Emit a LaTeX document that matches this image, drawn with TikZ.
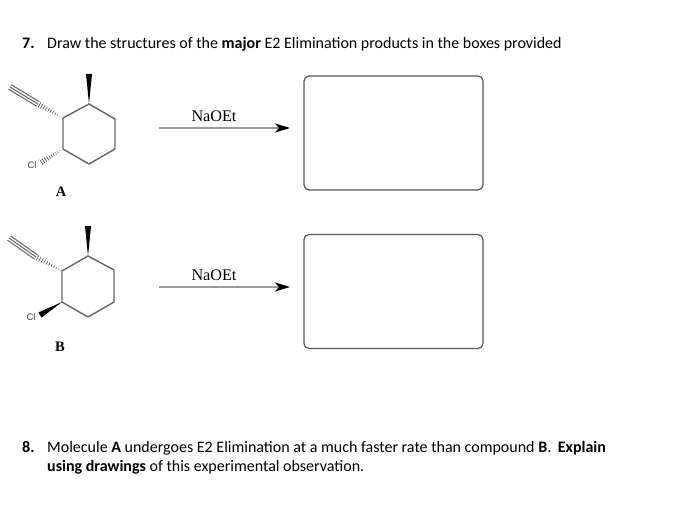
\documentclass[tikz,border=0pt]{standalone}
\usepackage{fontspec}
\setmainfont{Carlito}
\newfontfamily\reagentfont{Liberation Serif}
\newfontfamily\labelfont{Liberation Sans}
\usetikzlibrary{arrows.meta,calc}
\tikzset{
	bondline/.style={draw=black!60,line width=1.4pt,line cap=round,line join=round},
	answerbox/.style={draw=black!65,line width=1.2pt,rounded corners=5pt,minimum width=179pt,minimum height=114pt,inner sep=0pt},
	reagent/.style={font=\reagentfont\fontsize{16.2}{18}\selectfont,inner sep=0pt},
	rxnarrow/.style={draw=black!40,line width=1.5pt,-{Stealth[black,length=15pt,width=9pt,inset=4pt]}},
	question/.style={anchor=base west,inner sep=0pt,font=\fontsize{16}{19}\selectfont},
	atomlabel/.style={font=\labelfont\fontsize{9.5}{10}\selectfont,text=black!75,inner sep=0pt},
	letterlabel/.style={font=\reagentfont\bfseries\fontsize{14.5}{16}\selectfont,inner sep=0pt}
}
\newcommand{\hashbond}[2]{
	\foreach \t in {0.04,0.13,...,1.0} {
		\draw [black!75,line width=0.6pt] ($(#1)!\t!(#2)!{\t*3.2pt}!90:(#2)$) -- ($(#1)!\t!(#2)!{\t*3.2pt}!-90:(#2)$);
	}
}
\newcommand{\wedgebond}[3]{
	\fill [black] (#1) -- ($(#2)!#3!90:(#1)$) -- ($(#2)!#3!-90:(#1)$) -- cycle;
}
\newcommand{\triplebond}[2]{
	\draw [black!60,line width=1pt] (#1) -- (#2);
	\draw [black!60,line width=1pt] ($(#1)!2.6pt!90:(#2)$) -- ($(#2)!2.6pt!-90:(#1)$);
	\draw [black!60,line width=1pt] ($(#1)!2.6pt!-90:(#2)$) -- ($(#2)!2.6pt!90:(#1)$);
}
\begin{document}
\begin{tikzpicture}[x=1pt,y=-1pt]
	\useasboundingbox (0,0) rectangle (682,524);
	\fill [white] (0,0) rectangle (682,524);
	% headings
	\node (q7) [question] at (22,49) {\makebox[25pt][l]{\textbf{7.}}Draw the structures of the \textbf{major} E2 Elimination products in the boxes provided};
	\node (q8a) [question] at (22,452) {\makebox[25pt][l]{\textbf{8.}}Molecule \textbf{A} undergoes E2 Elimination at a much faster rate than compound \textbf{B}.\hspace{3pt} \textbf{Explain}};
	\node (q8b) [question] at (47,471) {\textbf{using drawings} of this experimental observation.};
	% molecule A
	\coordinate (a1) at (89,104);
	\coordinate (a2) at (115,119);
	\coordinate (a3) at (115,149);
	\coordinate (a4) at (89,164);
	\coordinate (a5) at (63,149);
	\coordinate (a6) at (63,118);
	\coordinate (ame) at (89,74);
	\coordinate (ayne) at (38,104);
	\coordinate (aynend) at (10,87);
	\coordinate (acl) at (40,163);
	\draw [bondline] (a1) -- (a2) -- (a3) -- (a4) -- (a5) -- (a6) -- cycle;
	\wedgebond{a1}{ame}{3pt}
	\hashbond{a6}{ayne}
	\hashbond{a5}{acl}
	\triplebond{ayne}{aynend}
	\node (clA) [atomlabel] at (32,165) {Cl};
	\node (molA) [letterlabel] at (61,192) {A};
	% molecule B
	\coordinate (b1) at (88,256);
	\coordinate (b2) at (114,270);
	\coordinate (b3) at (114,302);
	\coordinate (b4) at (88,317);
	\coordinate (b5) at (62,302);
	\coordinate (b6) at (62,271);
	\coordinate (bme) at (88,226);
	\coordinate (byne) at (36,257);
	\coordinate (bynend) at (9,238);
	\coordinate (bcl) at (40,315);
	\draw [bondline] (b1) -- (b2) -- (b3) -- (b4) -- (b5) -- (b6) -- cycle;
	\wedgebond{b1}{bme}{3pt}
	\hashbond{b6}{byne}
	\wedgebond{b5}{bcl}{3pt}
	\triplebond{byne}{bynend}
	\node (clB) [atomlabel] at (31,317) {Cl};
	\node (molB) [letterlabel] at (60,347) {B};
	% reactions
	\node (boxA) [answerbox] at (393.5,133) {};
	\node (boxB) [answerbox] at (393.5,291.5) {};
	\coordinate (startA) at (159,128);
	\coordinate (endA) at (290,128);
	\coordinate (startB) at (159,287);
	\coordinate (endB) at (290,287);
	\draw [rxnarrow] (startA) -- (endA);
	\draw [rxnarrow] (startB) -- (endB);
	\node (naoetA) [reagent] at (214,116) {NaOEt};
	\node (naoetB) [reagent] at (214,275) {NaOEt};
\end{tikzpicture}
\end{document}
